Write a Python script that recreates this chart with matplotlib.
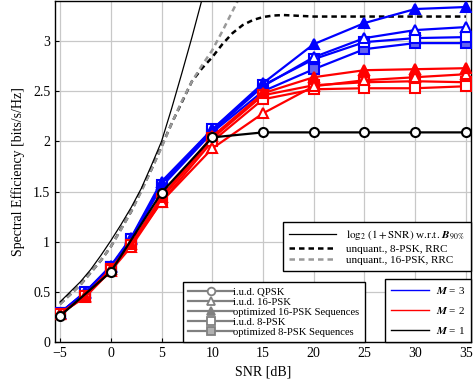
import matplotlib
matplotlib.use('Agg')
import matplotlib.pyplot as plt
from matplotlib.lines import Line2D

plt.rcParams['font.family'] = 'serif'
plt.rcParams['font.serif'] = ['Liberation Serif', 'DejaVu Serif']
plt.rcParams['mathtext.fontset'] = 'stix'

# theory curves
cap_snr = [-5, -4, -3, -2, -1, 0, 1, 2, 3, 4, 5, 6, 7, 8, 9]
cap_val = [0.40, 0.50, 0.60, 0.72, 0.86, 1.01, 1.17, 1.34, 1.53, 1.76, 2.00, 2.33, 2.68, 3.04, 3.42]
psk16_snr = [-5, -4, -3, -2, -1, 0, 1, 2, 3, 4, 5, 6, 7, 8, 9, 10, 11, 12, 12.5]
psk16_val = [0.38, 0.47, 0.57, 0.69, 0.81, 0.95, 1.12, 1.30, 1.50, 1.72, 1.94, 2.18, 2.40, 2.60, 2.76,
             2.91, 3.10, 3.30, 3.40]
psk8_snr = [-5, -3, -1, 0, 2, 4, 6, 8, 9, 10, 11, 12, 13, 14, 15, 16, 17, 18, 20, 25, 30, 35]
psk8_val = [0.38, 0.57, 0.81, 0.95, 1.30, 1.72, 2.18, 2.60, 2.73, 2.84, 2.97, 3.08, 3.16, 3.21,
            3.24, 3.255, 3.26, 3.255, 3.245, 3.245, 3.245, 3.245]

# simulated curves
snr_qpsk = [-5, 0, 5, 10, 15, 20, 25, 30, 35]
qpsk_m1 = [0.26, 0.70, 1.49, 2.04, 2.09, 2.09, 2.09, 2.09, 2.09]

snr = [-5, -2.5, 0, 2, 5, 10, 15, 20, 25, 30, 35]
m3_iud16 = [0.29, 0.49, 0.75, 1.03, 1.58, 2.10, 2.55, 2.84, 3.03, 3.11, 3.14]
m3_opt16 = [0.29, 0.50, 0.76, 1.04, 1.60, 2.12, 2.58, 2.97, 3.18, 3.32, 3.34]
m3_iud8 = [0.29, 0.50, 0.75, 1.03, 1.57, 2.12, 2.56, 2.82, 2.99, 3.03, 3.04]
m3_opt8 = [0.29, 0.49, 0.75, 1.02, 1.55, 2.09, 2.50, 2.72, 2.92, 2.98, 2.98]
m2_iud16 = [0.28, 0.45, 0.71, 0.95, 1.40, 1.93, 2.28, 2.55, 2.61, 2.64, 2.67]
m2_opt16 = [0.28, 0.46, 0.73, 0.98, 1.45, 2.05, 2.48, 2.64, 2.71, 2.72, 2.73]
m2_iud8 = [0.28, 0.46, 0.72, 0.97, 1.40, 2.00, 2.42, 2.52, 2.53, 2.53, 2.55]
m2_opt8 = [0.28, 0.46, 0.73, 0.97, 1.43, 2.03, 2.46, 2.56, 2.59, 2.60, 2.59]

xticks = [-5, 0, 5, 10, 15, 20, 25, 30, 35]
yticks = [0, 0.5, 1, 1.5, 2, 2.5, 3]
yticklabels = ['0', '0.5', '1', '1.5', '2', '2.5', '3']

fig = plt.figure(figsize=(4.73, 3.87), dpi=100)
ax = fig.add_axes([55 / 473, 45 / 387, 416 / 473, 341 / 387])

ax.plot(psk8_snr, psk8_val, color='black', lw=1.8, ls=(0, (2.2, 1.6)), zorder=2)
ax.plot(psk16_snr, psk16_val, color='#999999', lw=1.8, ls=(0, (2.2, 1.6)), zorder=2)
ax.plot(cap_snr, cap_val, color='black', lw=0.9, zorder=2)

ms = 6.5
mew = 1.5


def sim(y, color, marker, face):
    ax.plot(snr, y, color=color, lw=1.6, marker=marker, ms=ms, mew=mew,
            mfc=face, mec=color, zorder=3)


sim(m3_opt8, 'blue', 's', '#6464f0')
sim(m3_iud8, 'blue', 's', 'white')
sim(m3_iud16, 'blue', '^', 'white')
sim(m3_opt16, 'blue', '^', 'blue')
sim(m2_opt8, 'red', 's', '#f07878')
sim(m2_iud8, 'red', 's', 'white')
sim(m2_iud16, 'red', '^', 'white')
sim(m2_opt16, 'red', '^', 'red')
ax.plot(snr_qpsk, qpsk_m1, color='black', lw=1.6, marker='o', ms=ms, mew=mew,
        mfc='white', mec='black', zorder=4)

ax.set_xlim(-5.5, 35.5)
ax.set_ylim(0, 3.4)
ax.set_xticks(xticks)
ax.set_xticklabels([str(t).replace('-', '\u2212') for t in xticks])
ax.set_yticks(yticks)
ax.set_yticklabels(yticklabels)
ax.tick_params(direction='in', labelsize=10, length=3)
ax.grid(True, color='#c8c8c8', lw=0.9)
ax.set_axisbelow(True)
for s in ax.spines.values():
    s.set_linewidth(1.0)
ax.set_xlabel('SNR [dB]', fontsize=10, labelpad=4)
ax.set_ylabel('Spectral Efficiency [bits/s/Hz]', fontsize=10, labelpad=6)

leg_kw = dict(frameon=True, fancybox=False, framealpha=1, edgecolor='black',
              borderaxespad=0)

h1 = [Line2D([], [], color='black', lw=0.9),
      Line2D([], [], color='black', lw=1.8, ls=(0, (2.2, 1.6))),
      Line2D([], [], color='#999999', lw=1.8, ls=(0, (2.2, 1.6)))]
l1 = [r'$\log_2\,(1+\mathrm{SNR})$ w.r.t. $\boldsymbol{B}_{90\%}$',
      'unquant., 8-PSK, RRC', 'unquant., 16-PSK, RRC']
leg1 = ax.legend(h1, l1, loc='upper right', bbox_to_anchor=(1.0, 0.351),
                 fontsize=8, handlelength=4.3, labelspacing=0.15,
                 borderpad=0.55, handletextpad=0.9, **leg_kw)
leg1.get_frame().set_linewidth(1.0)
ax.add_artist(leg1)

g = '#808080'
h2 = [Line2D([], [], color=g, lw=1.6, marker='o', ms=5.5, mew=1.3, mfc='white', mec=g),
      Line2D([], [], color=g, lw=1.6, marker='^', ms=5.5, mew=1.3, mfc='white', mec=g),
      Line2D([], [], color=g, lw=1.6, marker='^', ms=5.5, mew=1.3, mfc=g, mec=g),
      Line2D([], [], color=g, lw=1.6, marker='s', ms=5.5, mew=1.3, mfc='white', mec=g),
      Line2D([], [], color=g, lw=1.6, marker='s', ms=5.5, mew=1.3, mfc='#b0b0b0', mec=g)]
l2 = ['i.u.d. QPSK', 'i.u.d. 16-PSK', 'optimized 16-PSK Sequences',
      'i.u.d. 8-PSK', 'optimized 8-PSK Sequences']
leg2 = ax.legend(h2, l2, loc='lower left', bbox_to_anchor=(0.308, 0.0),
                 fontsize=7.7, handlelength=4.2, labelspacing=0.05,
                 borderpad=0.5, handletextpad=0.0, **leg_kw)
leg2.get_frame().set_linewidth(1.0)
ax.add_artist(leg2)

h3 = [Line2D([], [], color='blue', lw=1.0),
      Line2D([], [], color='red', lw=1.0),
      Line2D([], [], color='black', lw=1.0)]
l3 = [r'$\boldsymbol{M}$ = 3', r'$\boldsymbol{M}$ = 2', r'$\boldsymbol{M}$ = 1']
leg3 = ax.legend(h3, l3, loc='lower right', bbox_to_anchor=(1.0, 0.0),
                 fontsize=8, handlelength=3.4, labelspacing=0.8,
                 borderpad=0.55, handletextpad=0.6, **leg_kw)
leg3.get_frame().set_linewidth(1.0)

fig.savefig('out.png', dpi=100)
